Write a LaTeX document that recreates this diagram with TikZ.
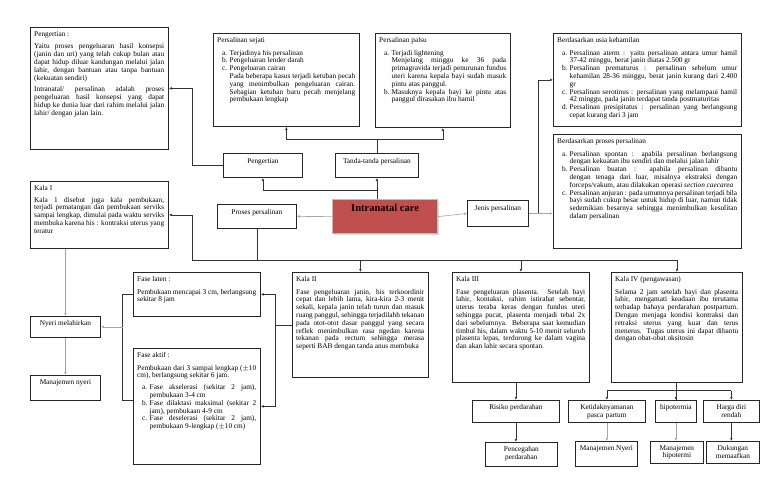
\documentclass[tikz,border=0pt]{standalone}
\usepackage{fontspec}
\setmainfont{Liberation Serif}
\usetikzlibrary{calc,arrows.meta,shadows}
\newcommand{\bx}[6][]{\node[boxs,#1,minimum width=#4pt-#2pt,minimum height=#5pt-#3pt,anchor=north west] (#6) at (#2,#3) {};}
\newcommand{\itm}[2]{\par{\leftskip=5pt\hangindent=7.5pt\hangafter=1\noindent\makebox[7.5pt][l]{#1}#2\par}}
\newcommand{\fnt}{\fontsize{7.3}{7.8}\selectfont\hyphenpenalty=10000\exhyphenpenalty=10000\tolerance=9000\emergencystretch=20pt}
\begin{document}
\begin{tikzpicture}[x=1pt,y=-1pt,
  boxs/.style={draw=black!85,line width=0.8pt,inner sep=0pt},
  txt/.style={anchor=north west,inner sep=0pt,align=justify,font=\fnt},
  ctxt/.style={anchor=north,inner sep=0pt,align=center,font=\fnt},
  ln/.style={line width=0.7pt,draw=black!80},
  lg/.style={line width=0.6pt,draw=black!35},
  arr/.style={ln,-{Latex[length=3pt,width=2.5pt]}},
  arrg/.style={lg,-{Latex[length=3pt,width=2.5pt]}}]
\useasboundingbox (0,0) rectangle (768,497);
\fill[white] (0,0) rectangle (768,497);
% boxes
\bx{30}{27}{168}{149}{pgb}
\node[txt,text width=130pt] at ($(pgb.north west)+(4,4)$) {Pengertian :\par\vspace{5pt}
Yaitu proses pengeluaran hasil konsepsi (janin dan uri) yang telah cukup bulan atau dapat hidup diluar kandungan melalui jalan lahir, dengan bantuan atau tanpa bantuan (kekuatan sendiri)\par\vspace{4pt}
Intranatal/ persalinan adalah proses pengeluaran hasil konsepsi yang dapat hidup ke dunia luar dari rahim melalui jalan lahir/ dengan jalan lain.};
\bx{213}{33}{359}{126}{ps}
\node[txt,text width=138pt] at ($(ps.north west)+(4,4)$) {Persalinan sejati\par\vspace{5pt}
\itm{a.}{Terjadinya his persalinan}\itm{b.}{Pengeluaran lender darah}\itm{c.}{Pengeluaran cairan\\Pada beberapa kasus terjadi ketuban pecah yang menimbulkan pengeluaran cairan. Sebagian ketuban baru pecah menjelang pembukaan lengkap}};
\bx{375}{33}{510}{127}{pp}
\node[txt,text width=127pt] at ($(pp.north west)+(4,4)$) {Persalinan palsu\par\vspace{5pt}
\itm{a.}{Terjadi lightening\\Menjelang minggu ke 36 pada primagravida terjadi penurunan fundus uteri karena kepala bayi sudah masuk pintu atas panggul.}\itm{b.}{Masuknya kepala bayi ke pintu atas panggul dirasakan ibu hamil}};
\bx{553}{33}{741}{126}{us}
\node[txt,text width=180pt] at ($(us.north west)+(4,4)$) {Berdasarkan usia kehamilan\par\vspace{5pt}
\itm{a.}{Persalinan aterm : yaitu persalinan antara umur hamil 37-42 minggu, berat janin diatas 2.500 gr}\itm{b.}{Persalinan prematurus : persalinan sebelum umur kehamilan 28-36 minggu, berat janin kurang dari 2.400 gr}\itm{c.}{Persalinan serotinus : persalinan yang melampaui hamil 42 minggu, pada janin terdapat tanda postmaturitas}\itm{d.}{Persalinan presipitatus : persalinan yang berlangsung cepat kurang dari 3 jam}};
\bx{553}{134}{741}{248}{pro}
\node[txt,text width=180pt] at ($(pro.north west)+(4,4)$) {Berdasarkan proses persalinan\par\vspace{5pt}
\itm{a.}{Persalinan spontan : apabila persalinan berlangsung dengan kekuatan ibu sendiri dan melalui jalan lahir}\itm{b.}{Persalinan buatan : apabila persalinan dibantu dengan tenaga dari luar, misalnya ekstraksi dengan forceps/vakum, atau dilakukan operasi \textit{section caecarea}}\itm{c.}{Persalinan anjuran : pada umumnya persalinan terjadi bila bayi sudah cukup besar untuk hidup di luar, namun tidak sedemikian besarnya sehingga menimbulkan kesulitan dalam persalinan}};
\bx{223}{153}{302}{177}{pg}
\node[ctxt] at ($(pg.north)+(0,5)$) {Pengertian};
\bx{335}{153}{418}{177}{td}
\node[ctxt] at ($(td.north)+(0,5)$) {Tanda-tanda persalinan};
\node[draw=black!25,line width=1.2pt,fill={rgb,255:red,192;green,80;blue,77},minimum width=105pt,minimum height=34pt,anchor=north west,inner sep=0pt,drop shadow={shadow xshift=1.5pt,shadow yshift=-1.5pt,fill=black!30}] (ic) at (332,199) {};
\node[anchor=north,inner sep=0pt,font=\fontsize{10.5}{11}\selectfont\bfseries] at ($(ic.north)+(0,5)$) {Intranatal care};
\bx{217}{204}{296}{228}{pr}
\node[ctxt] at ($(pr.north)+(0,5)$) {Proses persalinan};
\bx{467}{200}{528}{226}{js}
\node[ctxt] at ($(js.north)+(0,5)$) {Jenis persalinan};
\bx{30}{181}{168}{248}{k1}
\node[txt,text width=130pt] at ($(k1.north west)+(4,4)$) {Kala I\par\vspace{4pt}
Kala 1 disebut juga kala pembukaan, terjadi pematangan dan pembukaan serviks sampai lengkap, dimulai pada waktu serviks membuka karena his : kontraksi uterus yang teratur};
\bx{133}{272}{260}{316}{fl}
\node[txt,text width=119pt] at ($(fl.north west)+(4,4)$) {Fase laten :\par\vspace{5pt}
Pembukaan mencapai 3 cm, berlangsung sekitar 8 jam};
\bx{133}{348}{260}{464}{fa}
\node[txt,text width=119pt] at ($(fa.north west)+(4,4)$) {Fase aktif :\par\vspace{5pt}
Pembukaan dari 3 sampai lengkap ($\pm$10 cm), berlangsung sekitar 6 jam.\par\vspace{4pt}
\itm{a.}{Fase akselerasi (sekitar 2 jam), pembukaan 3-4 cm}\itm{b.}{Fase dilaktasi maksimal (sekitar 2 jam), pembukaan 4-9 cm}\itm{c.}{Fase deselerasi (sekitar 2 jam), pembukaan 9-lengkap ($\pm$10 cm)}};
\bx{30}{316}{100}{337}{ny}
\node[ctxt] at ($(ny.north)+(0,4)$) {Nyeri melahirkan};
\bx{30}{375}{100}{400}{mn}
\node[ctxt] at ($(mn.north)+(0,4)$) {Manajemen nyeri};
\bx{292}{272}{428}{377}{k2}
\node[txt,text width=128pt] at ($(k2.north west)+(4,4)$) {Kala II\par\vspace{5pt}
Fase pengeluaran janin, his terkoordinir cepat dan lebih lama, kira-kira 2-3 menit sekali, kepala janin telah turun dan masuk ruang panggul, sehingga terjadilahh tekanan pada otot-otot dasar panggul yang secara reflek menimbulkan rasa ngedan karena tekanan pada rectum sehingga merasa seperti BAB dengan tanda anus membuka};
\bx{452}{272}{589}{382}{k3}
\node[txt,text width=129pt] at ($(k3.north west)+(4,4)$) {Kala III\par\vspace{5pt}
Fase pengeluaran plasenta. Setelah bayi lahir, kontaksi, rahim istirahat sebentar, uterus teraba keras dengan fundus uteri sehingga pucat, plasenta menjadi tebal 2x dari sebelumnya. Beberapa saat kemudian timbul his, dalam waktu 5-10 menit seluruh plasenta lepas, terdorong ke dalam vagina dan akan lahir secara spontan.};
\bx{611}{272}{742}{382}{k4}
\node[txt,text width=123pt] at ($(k4.north west)+(4,4)$) {Kala IV (pengawasan)\par\vspace{5pt}
Selama 2 jam setelah bayi dan plasenta lahir, mengamati keadaan ibu terutama terhadap bahaya perdarahan postpartum. Dengan menjaga kondisi kontraksi dan retraksi uterus yang kuat dan terus menerus. Tugas uterus ini dapat dibantu dengan obat-obat oksitosin};
\bx{472}{400}{559}{422}{rp}
\node[ctxt] at ($(rp.north)+(0,4)$) {Risiko perdarahan};
\bx{568}{400}{645}{422}{kt}
\node[ctxt,text width=75pt] at ($(kt.north)+(0,4)$) {Ketidaknyamanan pasca partum};
\bx{655}{400}{696}{422}{hp}
\node[ctxt] at ($(hp.north)+(0,4)$) {hipotermia};
\bx{703}{400}{759}{422}{hd}
\node[ctxt] at ($(hd.north)+(0,4)$) {Harga diri\\rendah};
\bx{485}{442}{557}{466}{pc}
\node[ctxt] at ($(pc.north)+(0,4)$) {Pencegahan\\perdarahan};
\bx{575}{441}{637}{466}{mny}
\node[ctxt] at ($(mny.north)+(0,4)$) {Manajemen Nyeri};
\bx{650}{441}{703}{463}{mh}
\node[ctxt] at ($(mh.north)+(0,4)$) {Manajemen\\hipotermi};
\bx{706}{441}{759}{463}{dk}
\node[ctxt] at ($(dk.north)+(0,4)$) {Dukungan\\memaafkan};
% connectors
\draw[arr] (pg.west) -- ++(-31,0) |- (pgb.east);
\coordinate (c1) at ($(td.south)+(0,13)$);
\draw[arr] (td.south |- ic.north) -- (td.south);
\draw[arr] (c1) -| (pg.south);
\coordinate (c2) at ($(td.north)+(0,-14)$);
\draw[ln] (td.north) -- (c2);
\draw[arr] (c2) -| (ps.south);
\draw[arr] (c2) -| (pp.south);
\draw[arrg] (ic.west) -- (pr.east);
\draw[arrg] (ic.east) -- (js.west);
\coordinate (c3) at ($(js.east)+(10,0)$);
\draw[arrg] (js.east) -- (pro.west |- js.east);
\draw[arr] (c3) |- (us.west);
\coordinate (h1) at (192,260);
\draw[ln] (h1) -- (k4.north |- h1);
\draw[arr] (h1) |- (k1.east);
\draw[ln] (pr.south) -- (pr.south |- h1);
\draw[arr] (k2.north |- h1) -- (k2.north);
\draw[arr] (k3.north |- h1) -- (k3.north);
\draw[arr] (k4.north |- h1) -- (k4.north);
\coordinate (f1) at ($(k2.west)+(-17,0)$);
\draw[ln] (k2.west) -- (f1);
\draw[arr] (f1) |- (fl.east);
\draw[arr] (f1) |- (fa.east);
\draw[ln] (fl.west) -- ++(-11,0) |- ($(fa.west)+(0,-6)$);
\draw[arrg] ($(ny.east)+(22,0)$) -- (ny.east);
\draw[arrg] (k1.south -| ny.north) -- (ny.north);
\draw[arrg] (ny.south) -- (mn.north);
\draw[arr] (k3.south -| rp.north) -- (rp.north);
\draw[arr] (rp.south) -- (rp.south |- pc.north);
\coordinate (h2) at ($(k4.south)+(0,8)$);
\draw[ln] (k4.south -| hp.north) -- (hp.north);
\draw[ln] (kt.north |- h2) -- (hd.north |- h2);
\draw[arr] (kt.north |- h2) -- (kt.north);
\draw[arr] (hp.north |- h2) -- (hp.north);
\draw[arr] (hd.north |- h2) -- (hd.north);
\draw[arrg] (kt.south) -- (kt.south |- mny.north);
\draw[arrg] (hp.south) -- (hp.south |- mh.north);
\draw[arr] (hd.south) -- (hd.south |- dk.north);
\end{tikzpicture}
\end{document}
